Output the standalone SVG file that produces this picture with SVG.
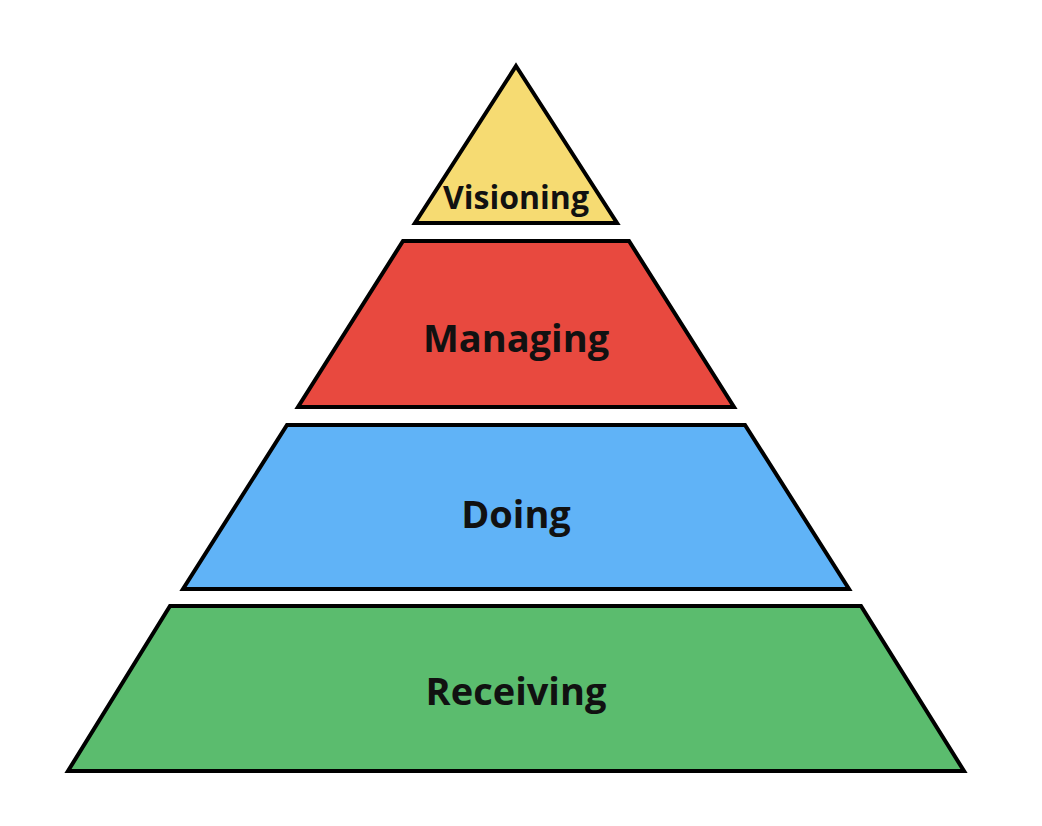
<svg xmlns="http://www.w3.org/2000/svg" width="1042" height="826" viewBox="0 0 1042 826">
<style>
.t{stroke:#000;stroke-width:4;stroke-linejoin:miter}
.l{font-family:"Open Sans","Noto Sans",sans-serif;font-weight:bold;fill:#111;text-anchor:middle}
</style>
<rect width="1042" height="826" fill="#fff"/>
<g id="visioning"><polygon class="t" fill="#F6DB72" points="516,66 617,223 415,223"/><text class="l" x="516" y="209" font-size="32">Visioning</text></g>
<g id="managing"><polygon class="t" fill="#E8493F" points="403,241 629,241 734,407 298,407"/><text class="l" x="516" y="352" font-size="38">Managing</text></g>
<g id="doing"><polygon class="t" fill="#60B3F7" points="287,425 745,425 849,589 183,589"/><text class="l" x="516" y="528" font-size="38">Doing</text></g>
<g id="receiving"><polygon class="t" fill="#5BBC6E" points="170,606 861,606 964,771 68,771"/><text class="l" x="516" y="705" font-size="38">Receiving</text></g>
<g id="connectors"/>
</svg>
